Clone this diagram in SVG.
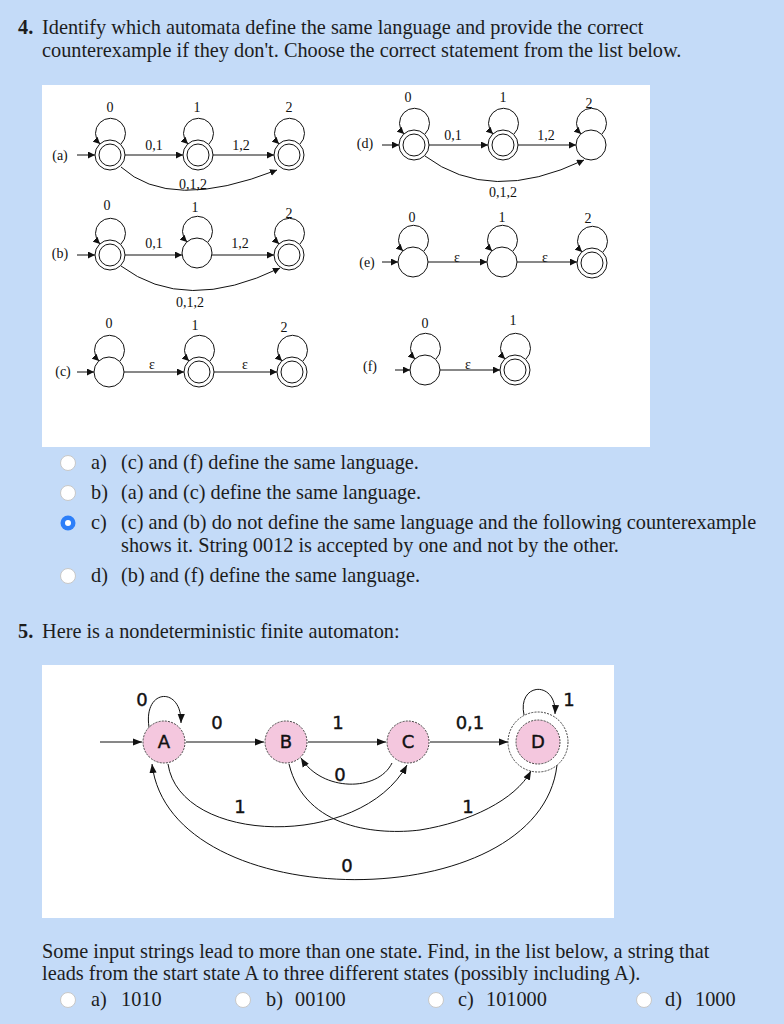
<svg xmlns="http://www.w3.org/2000/svg" width="784" height="1024" viewBox="0 0 784 1024">
<defs>
<style>
.q{font-family:"Liberation Serif","Times New Roman",serif;font-size:20.3px;fill:#1d1d1d}
.b{font-weight:bold}
.st{fill:#fff;stroke:#111;stroke-width:1}
.ln{fill:none;stroke:#111;stroke-width:1}
.lb{font-family:"Liberation Serif","Times New Roman",serif;font-size:14px;fill:#111;text-anchor:middle}
.nd{fill:#f4c7de;stroke:#444;stroke-width:1;stroke-dasharray:2 1.2}
.nl{font-family:"DejaVu Sans",Verdana,sans-serif;font-size:18px;fill:#111;stroke:#111;stroke-width:0.4;text-anchor:middle}
.rd{fill:#fff;stroke:#c8c8c8;stroke-width:1}
</style>
<marker id="ah" viewBox="0 0 10 10" refX="10" refY="5" markerWidth="7" markerHeight="7" markerUnits="userSpaceOnUse" orient="auto">
<path d="M0,0 L10,5 L0,10 z" fill="#111"/>
</marker>
<marker id="ah2" viewBox="0 0 10 10" refX="10" refY="5" markerWidth="9" markerHeight="9" markerUnits="userSpaceOnUse" orient="auto">
<path d="M0,1 L10,5 L0,9 z" fill="#111"/>
</marker>
</defs>
<rect width="784" height="1024" fill="#c4dbf8"/>

<text class="q" x="18" y="34"><tspan class="b">4.</tspan><tspan x="42">Identify which automata define the same language and provide the correct</tspan></text>
<text class="q" x="42" y="57">counterexample if they don't. Choose the correct statement from the list below.</text>

<rect x="42" y="85" width="608" height="362" fill="#fff"/>

<!-- (a) -->
<g id="auto-a">
<text class="lb" x="60" y="160">(a)</text>
<text class="lb" x="110" y="112">0</text>
<text class="lb" x="197" y="112">1</text>
<text class="lb" x="289" y="112">2</text>
<text class="lb" x="154" y="150">0,1</text>
<text class="lb" x="241" y="150">1,2</text>
<text class="lb" x="193" y="189">0,1,2</text>
<circle class="st" cx="110" cy="155" r="15"/><circle class="st" cx="110" cy="155" r="11"/>
<circle class="st" cx="198" cy="155" r="15"/><circle class="st" cx="198" cy="155" r="11"/>
<circle class="st" cx="289" cy="155" r="15"/><circle class="st" cx="289" cy="155" r="11"/>
</g>
<!-- (d) -->
<g id="auto-d">
<text class="lb" x="365" y="148">(d)</text>
<text class="lb" x="408" y="102">0</text>
<text class="lb" x="503" y="102">1</text>
<text class="lb" x="589" y="108">2</text>
<text class="lb" x="453" y="140">0,1</text>
<text class="lb" x="546" y="140">1,2</text>
<text class="lb" x="503" y="197">0,1,2</text>
<circle class="st" cx="414" cy="145" r="15"/><circle class="st" cx="414" cy="145" r="11"/>
<circle class="st" cx="503" cy="145" r="15"/><circle class="st" cx="503" cy="145" r="11"/>
<circle class="st" cx="591" cy="145" r="15"/>
</g>
<!-- (b) -->
<g id="auto-b">
<text class="lb" x="60" y="258">(b)</text>
<text class="lb" x="107" y="210">0</text>
<text class="lb" x="195" y="212">1</text>
<text class="lb" x="289" y="218">2</text>
<text class="lb" x="154" y="248">0,1</text>
<text class="lb" x="240" y="248">1,2</text>
<text class="lb" x="190" y="307">0,1,2</text>
<circle class="st" cx="110" cy="255" r="15"/><circle class="st" cx="110" cy="255" r="11"/>
<circle class="st" cx="197" cy="253" r="15"/>
<circle class="st" cx="289" cy="255" r="15"/><circle class="st" cx="289" cy="255" r="11"/>
</g>
<!-- (e) -->
<g id="auto-e">
<text class="lb" x="367" y="267">(e)</text>
<text class="lb" x="412" y="222">0</text>
<text class="lb" x="502" y="222">1</text>
<text class="lb" x="588" y="223">2</text>
<text class="lb" x="457" y="262">ε</text>
<text class="lb" x="545" y="262">ε</text>
<circle class="st" cx="413" cy="262" r="15"/>
<circle class="st" cx="502" cy="262" r="15"/>
<circle class="st" cx="592" cy="263" r="15"/><circle class="st" cx="592" cy="263" r="11"/>
</g>
<!-- (c) -->
<g id="auto-c">
<text class="lb" x="63" y="376">(c)</text>
<text class="lb" x="109" y="328">0</text>
<text class="lb" x="195" y="330">1</text>
<text class="lb" x="284" y="332">2</text>
<text class="lb" x="152" y="369">ε</text>
<text class="lb" x="245" y="369">ε</text>
<circle class="st" cx="109" cy="372" r="15"/>
<circle class="st" cx="199" cy="372" r="15"/><circle class="st" cx="199" cy="372" r="11"/>
<circle class="st" cx="292" cy="372" r="15"/><circle class="st" cx="292" cy="372" r="11"/>
</g>
<!-- (f) -->
<g id="auto-f">
<text class="lb" x="370" y="371">(f)</text>
<text class="lb" x="425" y="328">0</text>
<text class="lb" x="513" y="325">1</text>
<text class="lb" x="468" y="369">ε</text>
<circle class="st" cx="425" cy="370" r="15"/>
<circle class="st" cx="515" cy="370" r="15"/><circle class="st" cx="515" cy="370" r="11"/>
</g>

<g id="connectors-top" class="ln">
<!-- (a) -->
<path class="ln" d="M77,155 L95,155" marker-end="url(#ah)"/>
<path class="ln" d="M121,144 A15,15 0 1 0 100,144" marker-end="url(#ah)"/>
<path class="ln" d="M209,144 A15,15 0 1 0 188,144" marker-end="url(#ah)"/>
<path class="ln" d="M300,144 A15,15 0 1 0 279,144" marker-end="url(#ah)"/>
<path class="ln" d="M125,155 L183,155" marker-end="url(#ah)"/>
<path class="ln" d="M213,155 L274,155" marker-end="url(#ah)"/>
<path class="ln" d="M121,167 Q170,212 277,170" marker-end="url(#ah)"/>
<!-- (d) -->
<path class="ln" d="M382,145 L399,145" marker-end="url(#ah)"/>
<path class="ln" d="M425,134 A15,15 0 1 0 404,134" marker-end="url(#ah)"/>
<path class="ln" d="M514,134 A15,15 0 1 0 493,134" marker-end="url(#ah)"/>
<path class="ln" d="M602,134 A15,15 0 1 0 581,134" marker-end="url(#ah)"/>
<path class="ln" d="M429,145 L488,145" marker-end="url(#ah)"/>
<path class="ln" d="M518,145 L576,145" marker-end="url(#ah)"/>
<path class="ln" d="M425,156 Q490,205 584,160" marker-end="url(#ah)"/>
<!-- (b) -->
<path class="ln" d="M77,255 L95,255" marker-end="url(#ah)"/>
<path class="ln" d="M121,244 A15,15 0 1 0 100,244" marker-end="url(#ah)"/>
<path class="ln" d="M208,242 A15,15 0 1 0 187,242" marker-end="url(#ah)"/>
<path class="ln" d="M300,244 A15,15 0 1 0 279,244" marker-end="url(#ah)"/>
<path class="ln" d="M125,255 L182,255" marker-end="url(#ah)"/>
<path class="ln" d="M212,255 L274,255" marker-end="url(#ah)"/>
<path class="ln" d="M121,266 Q185,314 280,268" marker-end="url(#ah)"/>
<!-- (e) -->
<path class="ln" d="M382,262 L398,262" marker-end="url(#ah)"/>
<path class="ln" d="M424,251 A15,15 0 1 0 403,251" marker-end="url(#ah)"/>
<path class="ln" d="M513,251 A15,15 0 1 0 492,251" marker-end="url(#ah)"/>
<path class="ln" d="M603,252 A15,15 0 1 0 582,252" marker-end="url(#ah)"/>
<path class="ln" d="M428,262 L487,262" marker-end="url(#ah)"/>
<path class="ln" d="M517,262 L577,262" marker-end="url(#ah)"/>
<!-- (c) -->
<path class="ln" d="M77,372 L94,372" marker-end="url(#ah)"/>
<path class="ln" d="M120,361 A15,15 0 1 0 99,361" marker-end="url(#ah)"/>
<path class="ln" d="M210,361 A15,15 0 1 0 189,361" marker-end="url(#ah)"/>
<path class="ln" d="M303,361 A15,15 0 1 0 282,361" marker-end="url(#ah)"/>
<path class="ln" d="M124,372 L184,372" marker-end="url(#ah)"/>
<path class="ln" d="M214,372 L277,372" marker-end="url(#ah)"/>
<!-- (f) -->
<path class="ln" d="M395,370 L410,370" marker-end="url(#ah)"/>
<path class="ln" d="M436,359 A15,15 0 1 0 415,359" marker-end="url(#ah)"/>
<path class="ln" d="M526,359 A15,15 0 1 0 505,359" marker-end="url(#ah)"/>
<path class="ln" d="M440,370 L500,370" marker-end="url(#ah)"/>
</g>

<!-- options Q4 -->
<g id="options-4">
<circle class="rd" cx="68" cy="463" r="7.5"/>
<text class="q" x="91" y="469">a)</text><text class="q" x="121" y="469">(c) and (f) define the same language.</text>
<circle class="rd" cx="68" cy="493" r="7.5"/>
<text class="q" x="91" y="499">b)</text><text class="q" x="121" y="499">(a) and (c) define the same language.</text>
<circle cx="68" cy="523" r="7.5" fill="#2d7ff9"/><circle cx="68" cy="523" r="3" fill="#fff"/>
<text class="q" x="91" y="529">c)</text><text class="q" x="121" y="529">(c) and (b) do not define the same language and the following counterexample</text>
<text class="q" x="121" y="552">shows it. String 0012 is accepted by one and not by the other.</text>
<circle class="rd" cx="68" cy="576" r="7.5"/>
<text class="q" x="91" y="582">d)</text><text class="q" x="121" y="582">(b) and (f) define the same language.</text>
</g>

<text class="q" x="18" y="638"><tspan class="b">5.</tspan><tspan x="42">Here is a nondeterministic finite automaton:</tspan></text>

<rect x="42" y="665" width="572" height="253" fill="#fff"/>

<g id="connectors-nfa">
<path class="ln" d="M100,742 L142,742" marker-end="url(#ah2)"/>
<path class="ln" d="M149,727 C143,688 182,686 181,723" marker-end="url(#ah2)"/>
<path class="ln" d="M186,742 L264,742" marker-end="url(#ah2)"/>
<path class="ln" d="M308,742 L386,742" marker-end="url(#ah2)"/>
<path class="ln" d="M430,742 L508,742" marker-end="url(#ah2)"/>
<path class="ln" d="M524,715 C517,682 557,680 555,714" marker-end="url(#ah2)"/>
<path class="ln" d="M392,763 C378,792 322,792 301,758" marker-end="url(#ah2)"/>
<path class="ln" d="M168,764 C180,845 360,850 407,765" marker-end="url(#ah2)"/>
<path class="ln" d="M289,764 C305,830 380,835 420,830 C470,822 515,800 531,771" marker-end="url(#ah2)"/>
<path class="ln" d="M557,765 C540,918 170,918 152,764" marker-end="url(#ah2)"/>
</g>
<g id="node-A"><circle class="nd" cx="164" cy="742" r="21"/><text class="nl" x="164" y="748">A</text></g>
<g id="node-B"><circle class="nd" cx="286" cy="742" r="21"/><text class="nl" x="286" y="748">B</text></g>
<g id="node-C"><circle class="nd" cx="408" cy="742" r="21"/><text class="nl" x="408" y="748">C</text></g>
<g id="node-D"><circle cx="538" cy="742" r="30" fill="#fff" stroke="#444" stroke-dasharray="2 1.2"/><circle class="nd" cx="538" cy="742" r="22"/><text class="nl" x="538" y="748">D</text></g>
<g id="nfa-labels">
<text class="nl" x="142" y="706">0</text>
<text class="nl" x="217" y="729">0</text>
<text class="nl" x="338" y="729">1</text>
<text class="nl" x="470" y="729">0,1</text>
<text class="nl" x="569" y="706">1</text>
<text class="nl" x="340" y="781">0</text>
<text class="nl" x="240" y="813">1</text>
<text class="nl" x="468" y="813">1</text>
<text class="nl" x="347" y="872">0</text>
</g>

<text class="q" x="42" y="958">Some input strings lead to more than one state. Find, in the list below, a string that</text>
<text class="q" x="42" y="980">leads from the start state A to three different states (possibly including A).</text>
<g id="options-5">
<circle class="rd" cx="68" cy="1000" r="7.5"/>
<text class="q" x="91" y="1006">a)</text><text class="q" x="121" y="1006">1010</text>
<circle class="rd" cx="243" cy="1000" r="7.5"/>
<text class="q" x="266" y="1006">b)</text><text class="q" x="295" y="1006">00100</text>
<circle class="rd" cx="436" cy="1000" r="7.5"/>
<text class="q" x="458" y="1006">c)</text><text class="q" x="486" y="1006">101000</text>
<circle class="rd" cx="644" cy="1000" r="7.5"/>
<text class="q" x="665" y="1006">d)</text><text class="q" x="695" y="1006">1000</text>
</g>
</svg>
